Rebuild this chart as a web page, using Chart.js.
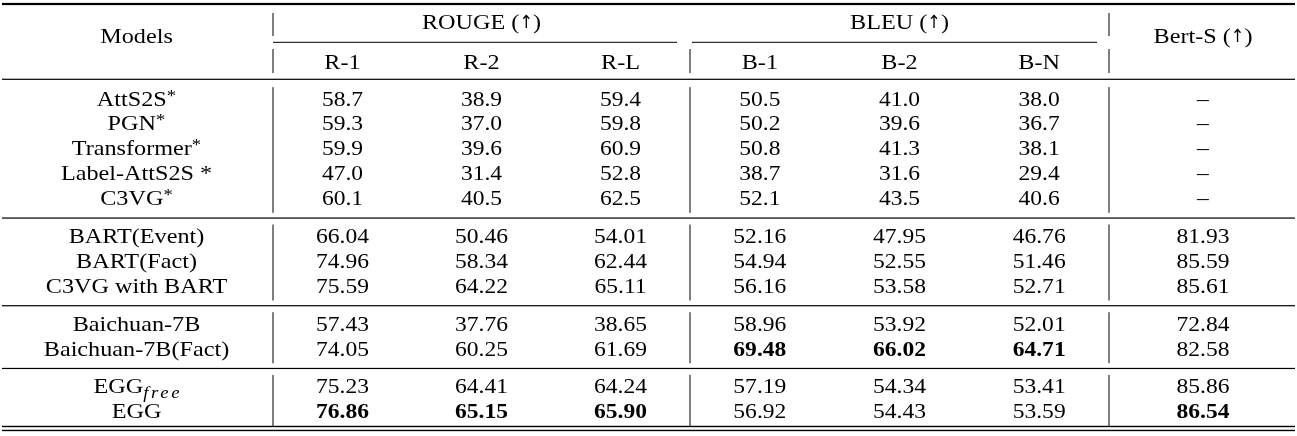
<!DOCTYPE html>
<html><head><meta charset="utf-8">
<script src="https://cdn.jsdelivr.net/npm/chart.js@4.4.1/dist/chart.umd.min.js"></script>
<style>html,body{margin:0;padding:0;background:#fff;overflow:hidden}canvas{display:block}</style>
</head><body>
<canvas id="c" width="1297" height="436"></canvas>
<script>
// ---------- DATA ----------
const models = ['AttS2S','PGN','Transformer','Label-AttS2S','C3VG','BART(Event)','BART(Fact)','C3VG with BART','Baichuan-7B','Baichuan-7B(Fact)','EGG','EGG'];
const modelSup = ['*','*','*','','*','','','','','','',''];
const modelSuffix = ['','','',' *','','','','','','','',''];
const modelSub = ['','','','','','','','','','','free',''];
const groupOf = [0,0,0,0,0,1,1,1,2,2,3,3];
const groupHeaders = ['ROUGE','BLEU'];
const subHeaders = ['R-1','R-2','R-L','B-1','B-2','B-N'];
const modelsHeader = 'Models';
const bertHeader = 'Bert-S';
const upArrow = '\u2191';
const r1 = [58.7,59.3,59.9,47.0,60.1,66.04,74.96,75.59,57.43,74.05,75.23,76.86];
const r2 = [38.9,37.0,39.6,31.4,40.5,50.46,58.34,64.22,37.76,60.25,64.41,65.15];
const rl = [59.4,59.8,60.9,52.8,62.5,54.01,62.44,65.11,38.65,61.69,64.24,65.90];
const b1 = [50.5,50.2,50.8,38.7,52.1,52.16,54.94,56.16,58.96,69.48,57.19,56.92];
const b2 = [41.0,39.6,41.3,31.6,43.5,47.95,52.55,53.58,53.92,66.02,54.34,54.43];
const bn = [38.0,36.7,38.1,29.4,40.6,46.76,51.46,52.71,52.01,64.71,53.41,53.59];
const bertS = [null,null,null,null,null,81.93,85.59,85.61,72.84,82.58,85.86,86.54];
const boldRows = [[11],[11],[11],[9],[9],[9],[11]]; // per metric column
const metricCols = [r1,r2,rl,b1,b2,bn,bertS];

// ---------- LAYOUT ----------
const colWidths = [273,139,139,139,139.67,139.67,139.66,188];
const colEdges = colWidths.reduce((a,w)=>{a.push(a[a.length-1]+w);return a;},[0]);
const colCenter = i => (colEdges[i]+colEdges[i+1])/2;
const ROW = 24.9, GAP = 0.52, FIRST = 98.3, H = 436;
const rowPos = groupOf.map((g,i)=> i + g*GAP);
const u = px => (px-FIRST)/ROW;
const HDR = {group:u(22), span:u(36), sub:u(62)};
const FS = 22, FAM = "'Liberation Serif','Times New Roman',serif";
const SX_TEXT = 1.1, SX_NUM = 1.07;

function fmt(v,g){ return v===null ? '\u2013' : v.toFixed(g===0?1:2); }
function P(text, o){ return Object.assign({text, size:FS, weight:'normal', style:'normal', sx:SX_TEXT, ls:0, dy:0, fam:FAM}, o||{}); }
function arrowParts(name){ return [P(name+' ('), P(upArrow,{fam:"'DejaVu Sans'",size:18,sx:0.9,dy:-1}), P(')')]; }

// ---------- CELLS ----------
const labelCells = models.map((m,i)=>{
  const parts=[P(m)];
  if(modelSub[i]) parts.push(P(modelSub[i],{size:17,style:'italic',ls:2.4,dy:5}));
  if(modelSup[i]) parts.push(P(modelSup[i],{size:17,dy:-5}));
  if(modelSuffix[i]) parts.push(P(modelSuffix[i]));
  return {x:colCenter(0), y:rowPos[i], parts};
});
const valueSets = metricCols.map((arr,c)=> arr.map((v,i)=>({
  x:colCenter(c+1), y:rowPos[i],
  parts:[P(fmt(v,groupOf[i]),{weight:boldRows[c].includes(i)?'bold':'normal', sx:SX_NUM})]
})));
const headerCells = [
  {x:colCenter(0), y:HDR.span, parts:[P(modelsHeader)]},
  {x:colCenter(7), y:HDR.span, parts:arrowParts(bertHeader)},
  {x:(colEdges[1]+colEdges[4])/2, y:HDR.group, parts:arrowParts(groupHeaders[0])},
  {x:(colEdges[4]+colEdges[7])/2, y:HDR.group, parts:arrowParts(groupHeaders[1])},
  ...subHeaders.map((s,i)=>({x:colCenter(i+1), y:HDR.sub, parts:[P(s)]}))
];

function fontOf(p){ return `${p.style} ${p.weight} ${p.size}px ${p.fam}`; }
function drawRich(ctx,x,y,parts){
  const ws = parts.map(p=>{ ctx.font=fontOf(p); ctx.letterSpacing=p.ls+'px'; return (ctx.measureText(p.text).width - p.ls)*p.sx + p.ls; });
  let total = ws.reduce((a,b)=>a+b,0) - parts[parts.length-1].ls;
  let cx = x - total/2;
  const base = y + 0.33*FS;
  parts.forEach((p,k)=>{
    ctx.save();
    ctx.font=fontOf(p); ctx.letterSpacing=p.ls+'px';
    ctx.translate(cx, base + p.dy); ctx.scale(p.sx,1);
    ctx.fillText(p.text, 0, 0);
    ctx.restore();
    cx += ws[k];
  });
}

const tablePlugin = {
  id:'table',
  beforeDatasetsDraw(chart){
    const ctx=chart.ctx, X=v=>chart.scales.x.getPixelForValue(v), Y=v=>chart.scales.y.getPixelForValue(v);
    ctx.save(); ctx.fillStyle='#000';
    const hr=(yu,x0,x1,w)=>{const py=Y(yu); ctx.fillRect(X(x0),py-w/2,X(x1)-X(x0),w);};
    const vr=(xu,y0,y1,w)=>{const px=Math.round(X(xu)); ctx.fillRect(px-w/2,Y(y0),w,Y(y1)-Y(y0));};
    const L=2, R=colEdges[8]-2;
    hr(u(4),L,R,2.2);                       // top rule
    hr(u(42.3),colEdges[1],colEdges[4]-13,1); // cmidrules
    hr(u(42.3),colEdges[4]+2,colEdges[7]-12,1);
    hr(u(79.3),L,R,1.2);                  // header rule
    for(let i=1;i<groupOf.length;i++) if(groupOf[i]!==groupOf[i-1]) hr((rowPos[i-1]+rowPos[i])/2+0.05,L,R,1.2);
    const last=rowPos[rowPos.length-1];
    hr(last+0.62,L,R,1.4); hr(last+0.78,L,R,1.4);
    [1,7].forEach(e=>vr(colEdges[e],u(13),u(36),1));
    [1,4,7].forEach(e=>vr(colEdges[e],u(49),u(73),1));
    const groups=[...new Set(groupOf)];
    groups.forEach(g=>{
      const idx=groupOf.map((v,i)=>v===g?i:-1).filter(i=>i>=0);
      const y0=rowPos[idx[0]]-0.45, y1=(g===groups.length-1)? last+0.62 : rowPos[idx[idx.length-1]]+0.6;
      [1,4,7].forEach(e=>vr(colEdges[e],y0,y1,1));
    });
    ctx.restore();
  },
  afterDatasetsDraw(chart){
    const ctx=chart.ctx; ctx.save(); ctx.fillStyle='#000'; ctx.textBaseline='alphabetic'; ctx.textAlign='left';
    chart.data.datasets.forEach((ds,di)=>{
      const meta=chart.getDatasetMeta(di);
      meta.data.forEach((el,j)=>drawRich(ctx,el.x,el.y,ds.data[j].parts));
    });
    ctx.restore();
  }
};

const datasets=[headerCells,labelCells,...valueSets].map((d,i)=>({label:'c'+i,data:d,pointRadius:0,pointHoverRadius:0,showLine:false}));

new Chart(document.getElementById('c'),{
  type:'scatter',
  data:{datasets},
  options:{
    responsive:false, animation:false, events:[],
    layout:{padding:0},
    plugins:{legend:{display:false},tooltip:{enabled:false}},
    scales:{
      x:{type:'linear',display:false,min:0,max:colEdges[8]},
      y:{type:'linear',display:false,reverse:true,min:u(0),max:u(H)}
    }
  },
  plugins:[tablePlugin]
});
</script>
</body></html>
